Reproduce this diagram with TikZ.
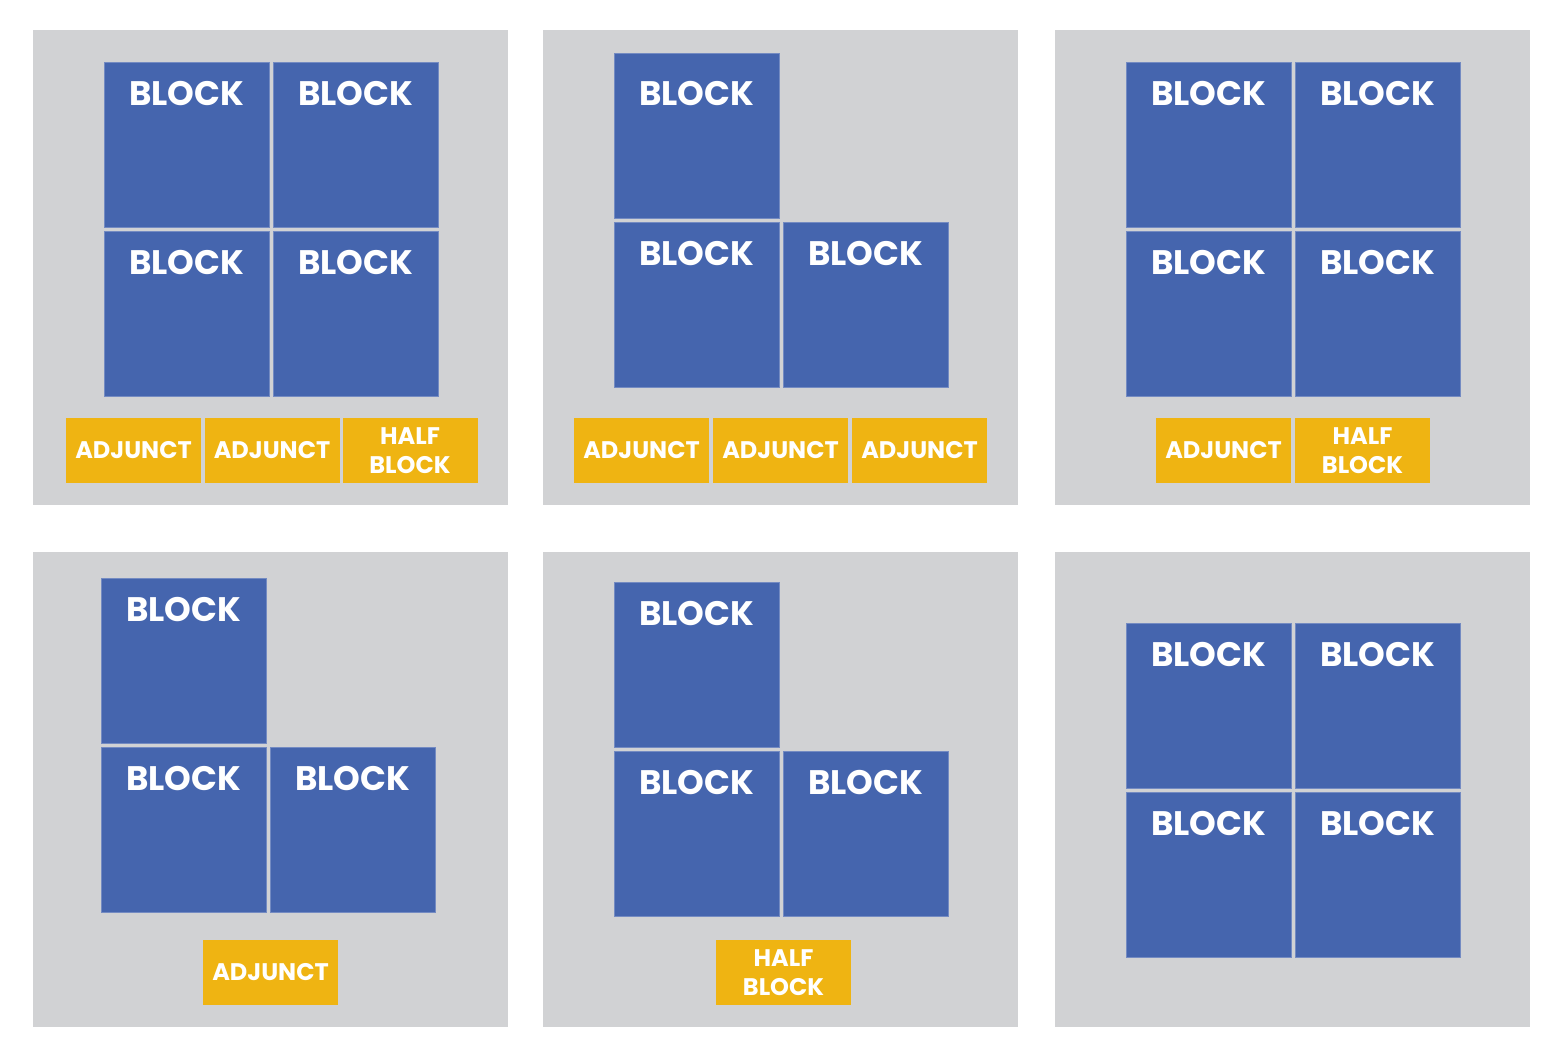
\documentclass[tikz,border=0pt]{standalone}
\usepackage{fontspec}
\setmainfont{Poppins}
\usepackage{xcolor}
\definecolor{panelgray}{HTML}{D1D2D4}
\definecolor{blockblue}{HTML}{4565AE}
\definecolor{adjyellow}{HTML}{EFB412}
\tikzset{
  panel/.style={fill=panelgray, minimum size=475pt, inner sep=0pt},
  blk/.style={fill=blockblue, draw=blockblue!75!white, line width=0.6pt, text=white,
    font=\bfseries\fontsize{34}{40}\selectfont,
    minimum width=165pt, text height=43pt, text depth=122pt, inner sep=0pt},
  adj/.style={fill=adjyellow, text=white, font=\bfseries\fontsize{24}{29}\selectfont,
    minimum width=135pt, minimum height=65pt, inner sep=0pt, align=center}
}
\begin{document}
\begin{tikzpicture}[x=1pt,y=-1pt]
\useasboundingbox[fill=white] (0,0) rectangle (1564,1060);

% top row
\node[panel] (p1) at (270.5,267.5) {};
\node[panel] (p2) at (780.5,267.5) {};
\node[panel] (p3) at (1292.5,267.5) {};
% bottom row
\node[panel] (p4) at (270.5,789.5) {};
\node[panel] (p5) at (780.5,789.5) {};
\node[panel] (p6) at (1292.5,789.5) {};

% panel 1
\node[blk] (a1) at (186.5,144.5) {BLOCK};
\node[blk] (a2) at (355.5,144.5) {BLOCK};
\node[blk] (a3) at (186.5,313.5) {BLOCK};
\node[blk] (a4) at (355.5,313.5) {BLOCK};
\node[adj] (a5) at (133.5,450.5) {ADJUNCT};
\node[adj] (a6) at (272,450.5) {ADJUNCT};
\node[adj] (a7) at (410,450.5) {HALF\\BLOCK};

% panel 2
\node[blk, text height=52pt, text depth=113pt] (b1) at (696.5,135.5) {BLOCK};
\node[blk] (b2) at (696.5,304.5) {BLOCK};
\node[blk] (b3) at (865.5,304.5) {BLOCK};
\node[adj] (b4) at (641.5,450.5) {ADJUNCT};
\node[adj] (b5) at (780.5,450.5) {ADJUNCT};
\node[adj] (b6) at (919.5,450.5) {ADJUNCT};

% panel 3
\node[blk] (c1) at (1208.5,144.5) {BLOCK};
\node[blk] (c2) at (1377.5,144.5) {BLOCK};
\node[blk] (c3) at (1208.5,313.5) {BLOCK};
\node[blk] (c4) at (1377.5,313.5) {BLOCK};
\node[adj] (c5) at (1223.5,450.5) {ADJUNCT};
\node[adj] (c6) at (1362.5,450.5) {HALF\\BLOCK};

% panel 4
\node[blk] (d1) at (183.5,660.5) {BLOCK};
\node[blk] (d2) at (183.5,829.5) {BLOCK};
\node[blk] (d3) at (352.5,829.5) {BLOCK};
\node[adj] (d4) at (270.5,972.5) {ADJUNCT};

% panel 5
\node[blk] (e1) at (696.5,664.5) {BLOCK};
\node[blk] (e2) at (696.5,833.5) {BLOCK};
\node[blk] (e3) at (865.5,833.5) {BLOCK};
\node[adj] (e4) at (783.5,972.5) {HALF\\BLOCK};

% panel 6
\node[blk] (f1) at (1208.5,705.5) {BLOCK};
\node[blk] (f2) at (1377.5,705.5) {BLOCK};
\node[blk] (f3) at (1208.5,874.5) {BLOCK};
\node[blk] (f4) at (1377.5,874.5) {BLOCK};

\end{tikzpicture}
\end{document}
